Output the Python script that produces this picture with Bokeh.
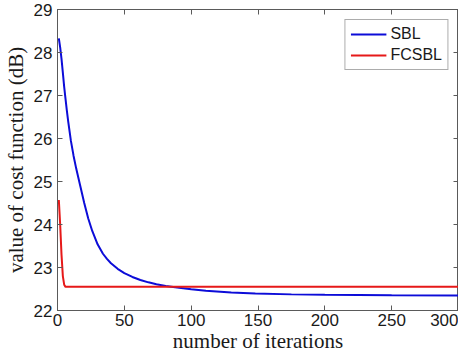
from bokeh.plotting import figure
from bokeh.models import LinearAxis, FixedTicker, Range1d, Legend, LegendItem
from bokeh.embed import file_html
from bokeh.resources import INLINE

# ---- data ----
sbl_iter = [1, 2, 3, 4, 5, 6, 7, 8, 10, 12, 14, 17, 20, 23, 26, 30, 34, 37, 40,
            45, 50, 56, 62, 68, 74, 81, 88, 100, 111, 130, 148, 175, 200, 250, 300]
sbl_cost = [28.33, 28.12, 27.85, 27.53, 27.2, 26.92, 26.65, 26.4, 25.95, 25.6,
            25.3, 24.9, 24.5, 24.14, 23.85, 23.54, 23.32, 23.2, 23.1, 22.97,
            22.87, 22.78, 22.71, 22.655, 22.61, 22.57, 22.54, 22.495, 22.46,
            22.42, 22.395, 22.375, 22.365, 22.355, 22.35]
fcsbl_iter = [1, 2, 3, 4, 5, 6, 10, 50, 100, 150, 200, 250, 300]
fcsbl_cost = [24.57, 24.0, 23.3, 22.8, 22.6, 22.55, 22.55, 22.55, 22.55, 22.55,
              22.55, 22.55, 22.55]
x_ticks = [0, 50, 100, 150, 200, 250, 300]
y_ticks = [22, 23, 24, 25, 26, 27, 28, 29]
x_label = "number of iterations"
y_label = "value of cost function (dB)"
series_names = ["SBL", "FCSBL"]

AX = "#5a5a5a"
SANS = "Liberation Sans"
SERIF = "Liberation Serif"

p = figure(width=458, height=355, output_backend="svg", toolbar_location=None,
           x_range=Range1d(0, 300), y_range=Range1d(22, 29),
           min_border_left=47, min_border_right=0, min_border_top=9,
           min_border_bottom=0, x_axis_location=None, y_axis_location=None)
p.background_fill_color = "white"
p.border_fill_color = "white"
p.grid.visible = False
p.outline_line_color = AX
p.outline_line_width = 1


def style_axis(ax, ticks, labels=True):
    ax.axis_line_color = AX
    ax.major_tick_line_color = AX
    ax.major_tick_in = 5
    ax.major_tick_out = 0
    ax.minor_tick_line_color = None
    ax.major_label_text_font = SANS
    ax.major_label_text_color = "#1a1a1a"
    ax.major_label_text_font_size = "17px"
    if not labels:
        ax.major_label_overrides = {t: "" for t in ticks}
        ax.major_label_standoff = 0


xb = LinearAxis(ticker=FixedTicker(ticks=x_ticks), axis_label=x_label)
style_axis(xb, x_ticks)
xb.major_label_standoff = 3
xb.axis_label_text_font = SERIF
xb.axis_label_text_font_style = "normal"
xb.axis_label_text_font_size = "21px"
xb.axis_label_text_color = "#1a1a1a"
xb.axis_label_standoff = 0
p.add_layout(xb, "below")

yl = LinearAxis(ticker=FixedTicker(ticks=y_ticks), axis_label=y_label)
style_axis(yl, y_ticks)
yl.major_label_standoff = 5
yl.axis_label_text_font = SERIF
yl.axis_label_text_font_style = "normal"
yl.axis_label_text_font_size = "21px"
yl.axis_label_text_color = "#1a1a1a"
yl.axis_label_standoff = 3
p.add_layout(yl, "left")

xt = LinearAxis(ticker=FixedTicker(ticks=x_ticks))
style_axis(xt, x_ticks, labels=False)
p.add_layout(xt, "above")

yr = LinearAxis(ticker=FixedTicker(ticks=y_ticks))
style_axis(yr, y_ticks, labels=False)
p.add_layout(yr, "right")

r1 = p.line(sbl_iter, sbl_cost, line_color="#0c0cd8", line_width=2)
r2 = p.line(fcsbl_iter, fcsbl_cost, line_color="#e61919", line_width=2)

legend = Legend(items=[LegendItem(label=series_names[0], renderers=[r1]),
                       LegendItem(label=series_names[1], renderers=[r2])],
                location="top_right")
legend.label_text_font = SANS
legend.label_text_font_size = "16px"
legend.label_text_color = "#1a1a1a"
legend.border_line_color = AX
legend.border_line_width = 1
legend.background_fill_color = "white"
legend.background_fill_alpha = 1
legend.glyph_width = 36
legend.glyph_height = 18
legend.label_standoff = 4
legend.label_height = 18
legend.spacing = 3
legend.padding = 5
legend.margin = 10
p.add_layout(legend, "center")

open("out.html", "w").write(file_html(p, INLINE))
